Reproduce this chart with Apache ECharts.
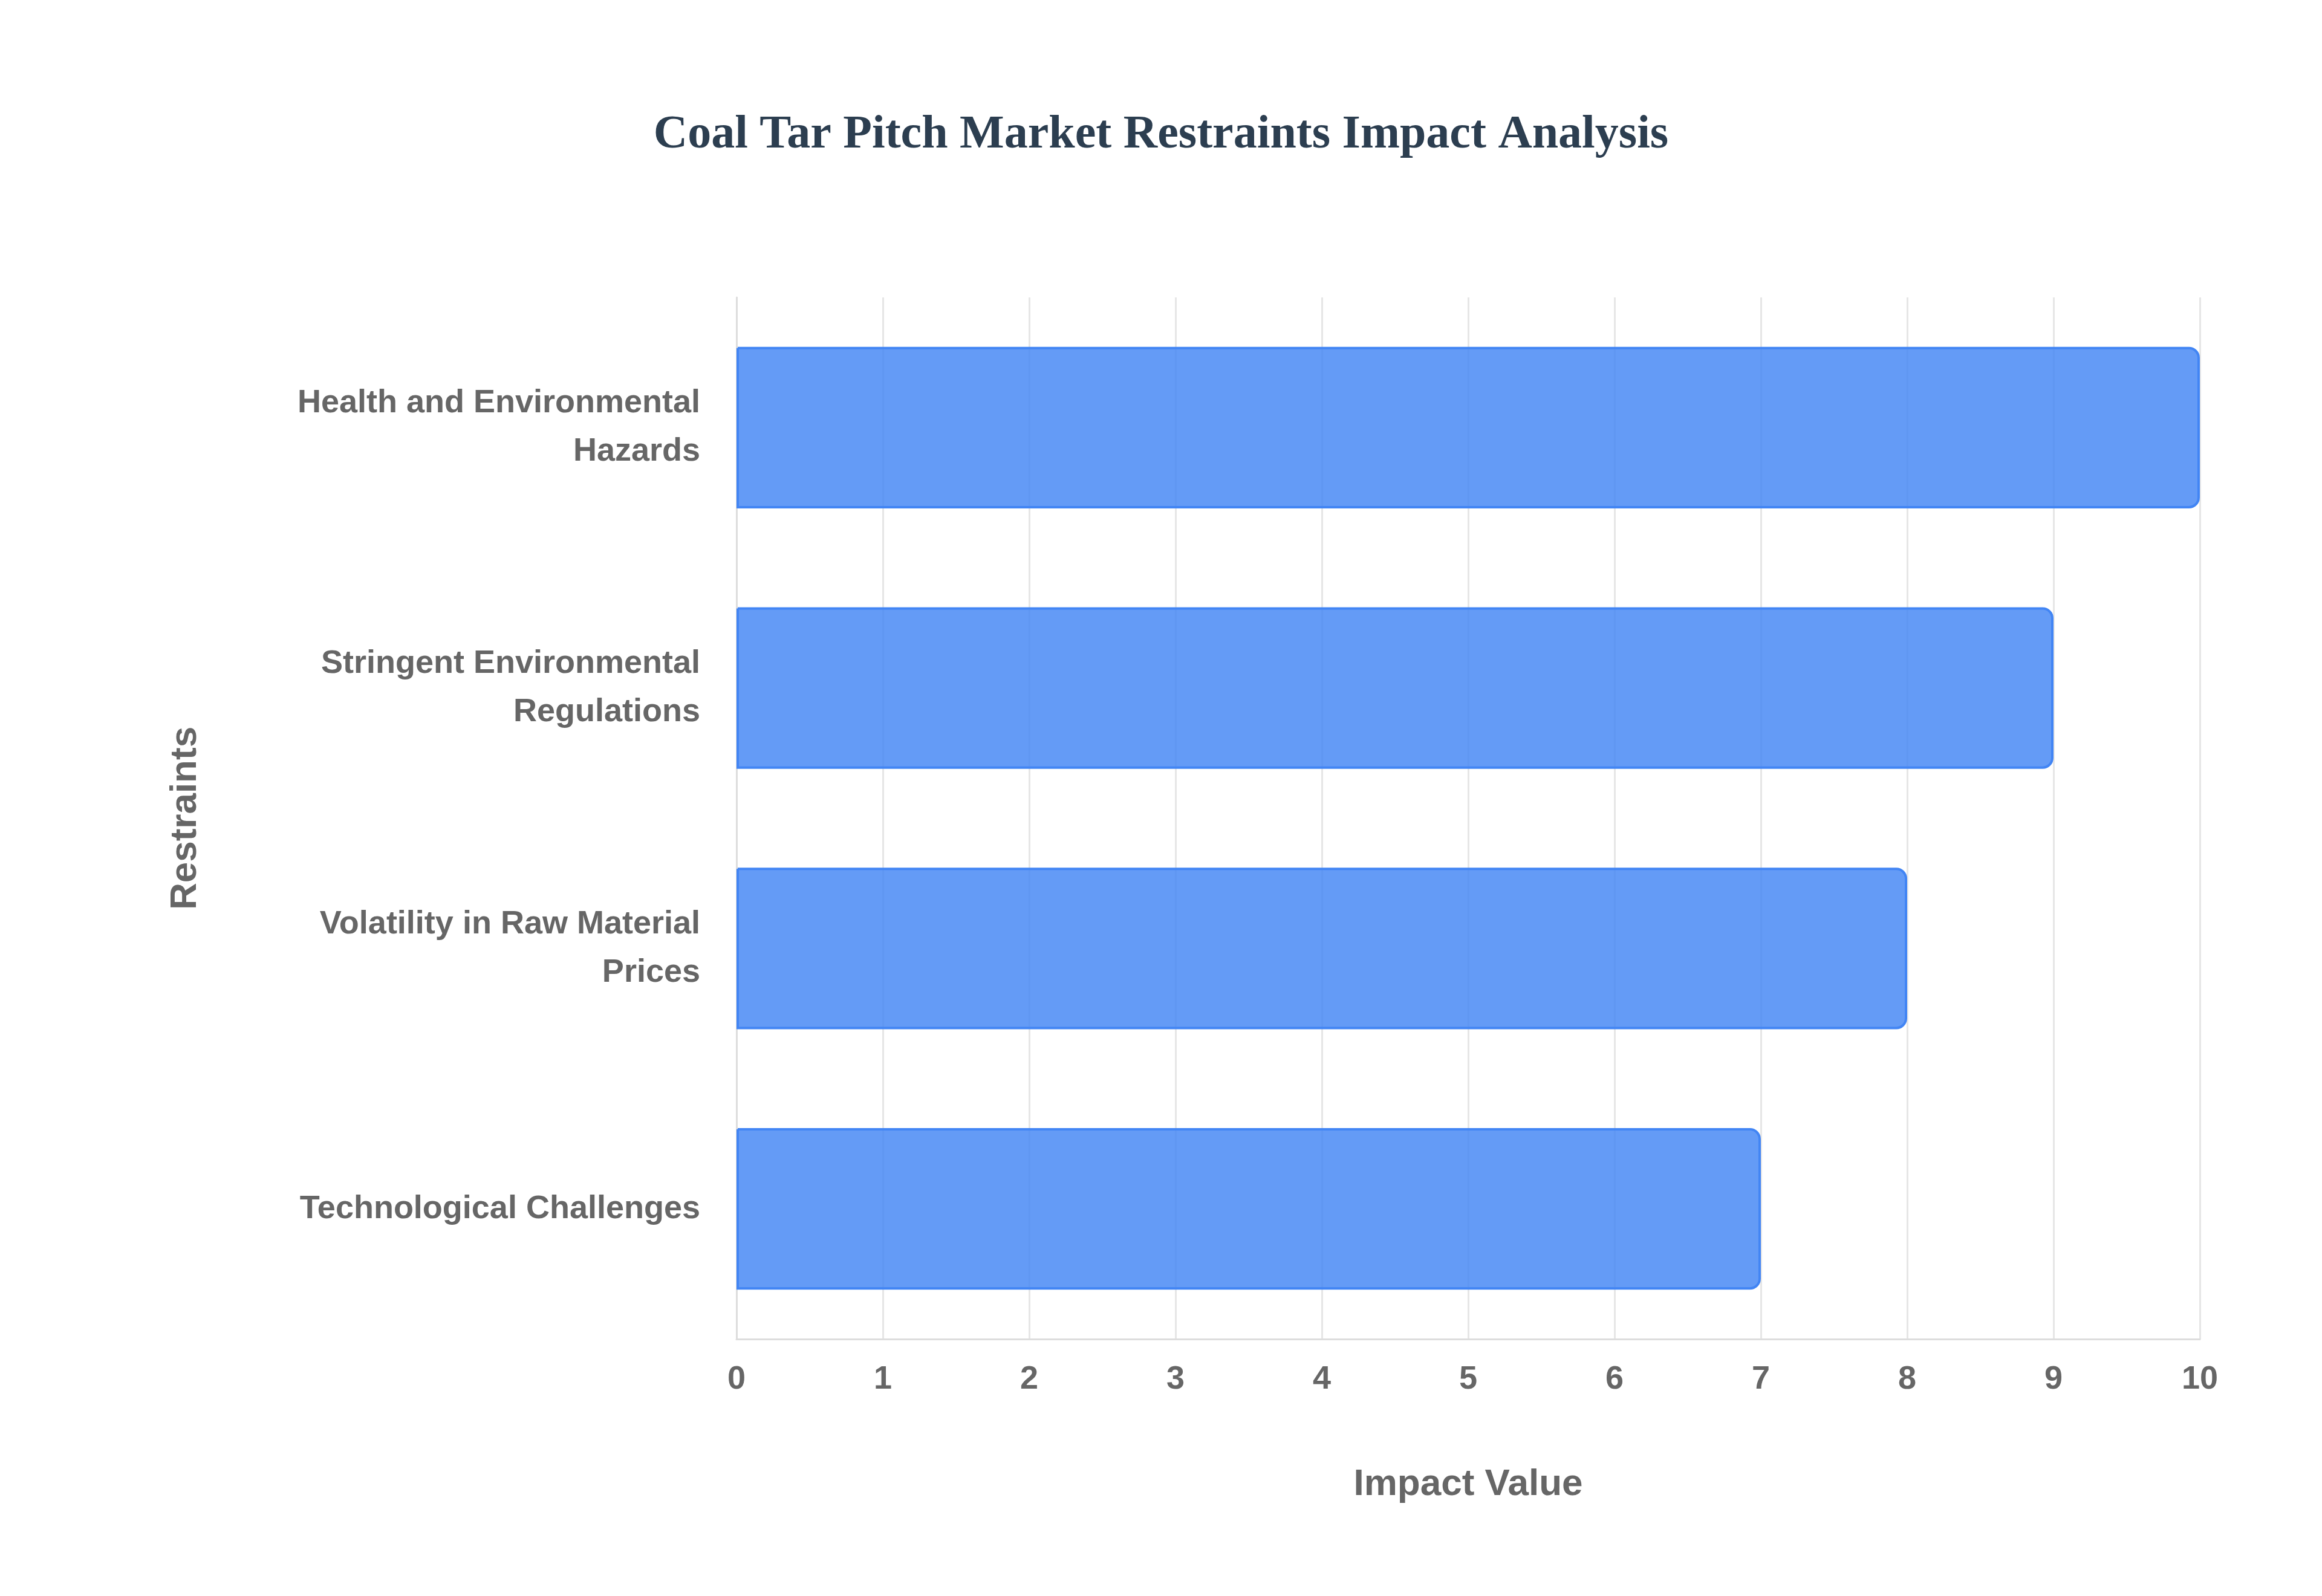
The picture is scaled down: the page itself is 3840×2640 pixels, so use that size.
<!DOCTYPE html>
<html>
<head>
<meta charset="utf-8">
<script src="https://cdn.jsdelivr.net/npm/echarts@6/dist/echarts.min.js"></script>
<style>html,body{margin:0;padding:0;background:#fff}#main{width:3840px;height:2640px}</style>
</head>
<body>
<div id="main"></div>
<script>
// 数据
var categories = ['Technological Challenges', 'Volatility in Raw Material\nPrices', 'Stringent Environmental\nRegulations', 'Health and Environmental\nHazards'];
var impactValues = [7, 8, 9, 10];
var xTicks = { min: 0, max: 10, interval: 1 };

var labelFont = '"Liberation Sans Narrow", "Liberation Sans", Arial, sans-serif';

var option = {
    title: {
        text: 'Coal Tar Pitch Market Restraints Impact Analysis',
        left: 'center',
        top: 180,
        textStyle: { fontFamily: '"Liberation Serif", "Times New Roman", serif', fontSize: 78, fontWeight: 'bold', color: '#2c3e50' }
    },
    grid: { left: 1218, right: 202, top: 492, bottom: 425 },
    xAxis: {
        type: 'value',
        min: xTicks.min, max: xTicks.max, interval: xTicks.interval,
        name: 'Impact Value',
        nameLocation: 'middle',
        nameGap: 210,
        nameTextStyle: { fontFamily: labelFont, fontSize: 62, fontWeight: 'bold', color: '#666' },
        axisLine: { show: true, lineStyle: { color: '#ddd', width: 3 } },
        axisTick: { show: false },
        axisLabel: { fontFamily: labelFont, fontSize: 54, fontWeight: 'bold', color: '#666', margin: 40 },
        splitLine: { show: true, lineStyle: { color: '#e6e6e6', width: 3 } }
    },
    yAxis: {
        type: 'category',
        data: categories,
        name: 'Restraints',
        nameLocation: 'middle',
        nameGap: 880,
        nameRotate: 90,
        nameTextStyle: { fontFamily: labelFont, fontSize: 62, fontWeight: 'bold', color: '#666' },
        axisLine: { show: true, lineStyle: { color: '#ddd', width: 3 } },
        axisTick: { show: false },
        axisLabel: { fontFamily: labelFont, fontSize: 54, fontWeight: 'bold', color: '#666', margin: 60, lineHeight: 80, align: 'right' }
    },
    series: [{
        type: 'bar',
        data: impactValues,
        barWidth: '62%',
        itemStyle: { color: 'rgba(66,133,244,0.82)', borderColor: '#4285f4', borderWidth: 4, borderRadius: [0, 16, 16, 0] }
    }]
};
var myChart = echarts.init(document.getElementById('main'));
myChart.setOption(option);
</script>
</body>
</html>
